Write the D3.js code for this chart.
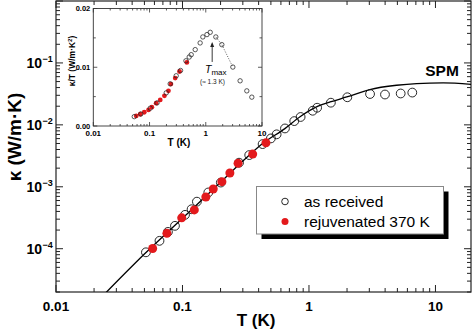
<!DOCTYPE html>
<html><head><meta charset="utf-8">
<script src="https://cdn.jsdelivr.net/npm/d3@7"></script>
<style>body{margin:0;background:#fff}svg{display:block}text{font-family:"Liberation Sans",Arial,Helvetica,sans-serif}</style>
</head><body>
<svg id="c" width="474" height="332"></svg>
<script>
// ---- main panel data: kappa (W/m.K) vs T (K)
const openT = [0.0514,0.0658,0.0767,0.0872,0.1047,0.118,0.130,0.160,0.201,0.280,0.337,0.430,0.50,0.555,0.646,0.765,0.859,1.07,1.16,1.49,2.01,3.04,3.99,5.31,6.56];
const openK = [8.75e-5,1.34e-4,1.87e-4,2.34e-4,3.52e-4,4.34e-4,5.75e-4,8.1e-4,1.17e-3,2.45e-3,3.25e-3,4.89e-3,6.04e-3,7.03e-3,8.75e-3,1.15e-2,1.34e-2,1.69e-2,1.89e-2,2.28e-2,2.79e-2,3.15e-2,3.09e-2,3.21e-2,3.32e-2];
const redT = [0.0581,0.0753,0.0986,0.124,0.153,0.175,0.205,0.237,0.275,0.359,0.457];
const redK = [1.01e-4,1.77e-4,3.15e-4,4.23e-4,6.85e-4,9.2e-4,1.21e-3,1.67e-3,2.39e-3,3.37e-3,5.13e-3];
// SPM model curve
const spmT = [0.0245,0.05,0.1,0.2,0.3,0.43,0.645,0.85,1.18,1.47,1.99,3.03,4.93,7.1,11.5,19.1];
const spmK = [1.9e-5,8.2e-5,3.1e-4,1.18e-3,2.6e-3,5.0e-3,8.7e-3,1.35e-2,2.0e-2,2.34e-2,2.82e-2,3.72e-2,4.36e-2,4.64e-2,4.75e-2,4.52e-2];
// ---- inset data: kappa/T (W/m.K^2) vs T (K)
const inOpenT = [0.0535,0.070,0.103,0.136,0.198,0.233,0.298,0.356,0.444,0.507,0.551,0.649,0.794,0.887,1.05,1.20,1.51,1.93,3.03,4.08,5.37,6.59];
const inOpenKT = [0.00159,0.00205,0.00303,0.00393,0.00564,0.00718,0.00855,0.00945,0.0111,0.01174,0.01214,0.0130,0.01414,0.01516,0.01556,0.01595,0.01516,0.01385,0.01003,0.00769,0.00598,0.00491];
const inRedT = [0.058,0.0684,0.0806,0.096,0.110,0.131,0.155,0.184,0.217,0.240,0.286,0.341,0.461];
const inRedKT = [0.00172,0.0020,0.00234,0.00274,0.0032,0.00388,0.00444,0.00513,0.00598,0.00713,0.00815,0.00928,0.01082];
const inDottedT = [1.51,1.93,3.03];
const inDottedKT = [0.01516,0.01385,0.01003];
const tMax = 1.3;
// tick labels
const xTickLabels = ["0.01","0.1","1","10"];
const yTickExps = ["-1","-2","-3","-4"];
const inXTickLabels = ["0.01","0.1","1","10"];
const inYTickLabels = ["0.00","0.01","0.02"];
const legendLabels = ["as received","rejuvenated 370 K"];

const RED = "#e3191c";
const svg = d3.select("#c");
const L=56,R=471,T=1,B=292;
const x = d3.scaleLog().domain([0.01,19.1]).range([L,R]);
const y = d3.scaleLog().domain([2e-5,1]).range([B,T]);

function decadeTicks(lo,hi){const maj=[],min=[];for(let e=-6;e<=3;e++){for(let m=1;m<10;m++){const v=m*Math.pow(10,e);if(v<lo*0.999||v>hi*1.001)continue;(m===1?maj:min).push(v);}}return {maj,min};}

// frame
svg.append("rect").attr("x",L).attr("y",T).attr("width",R-L).attr("height",B-T).attr("fill","none").attr("stroke","#222").attr("stroke-width",1.2);
const g=svg.append("g").attr("stroke","#222").attr("stroke-width",1);
const xt=decadeTicks(0.01,19.1);
xt.maj.forEach(v=>{g.append("line").attr("x1",x(v)).attr("x2",x(v)).attr("y1",B).attr("y2",B-7);g.append("line").attr("x1",x(v)).attr("x2",x(v)).attr("y1",T).attr("y2",T+7);});
xt.min.forEach(v=>{g.append("line").attr("x1",x(v)).attr("x2",x(v)).attr("y1",B).attr("y2",B-4);g.append("line").attr("x1",x(v)).attr("x2",x(v)).attr("y1",T).attr("y2",T+4);});
const yt=decadeTicks(2e-5,1);
yt.maj.forEach(v=>{g.append("line").attr("y1",y(v)).attr("y2",y(v)).attr("x1",L).attr("x2",L+7);g.append("line").attr("y1",y(v)).attr("y2",y(v)).attr("x1",R).attr("x2",R-7);});
yt.min.forEach(v=>{g.append("line").attr("y1",y(v)).attr("y2",y(v)).attr("x1",L).attr("x2",L+4);g.append("line").attr("y1",y(v)).attr("y2",y(v)).attr("x1",R).attr("x2",R-4);});

// tick labels
xTickLabels.forEach(s=>{svg.append("text").attr("x",x(+s)).attr("y",310.5).attr("text-anchor","middle").attr("font-size",13.5).attr("font-weight","bold").text(s);});
yTickExps.forEach(e=>{svg.append("text").attr("x",42).attr("y",y(Math.pow(10,+e))+5).attr("text-anchor","end").attr("font-size",14).attr("font-weight","bold").text("10");
  svg.append("text").attr("x",42.5).attr("y",y(Math.pow(10,+e))-1).attr("font-size",9).attr("font-weight","bold").text(e.replace("-","\u2212"));});
// axis titles
svg.append("text").attr("x",256).attr("y",326).attr("text-anchor","middle").attr("font-size",17).attr("font-weight","bold").text("T (K)");
svg.append("text").attr("transform","translate(21,137) rotate(-90)").attr("text-anchor","middle").attr("font-size",19).attr("font-weight","bold").text("\u03ba (W/m\u00b7K)");

// clip & curve
svg.append("clipPath").attr("id","clipM").append("rect").attr("x",L).attr("y",T).attr("width",R-L).attr("height",B-T);
const spm=spmT.map((t,i)=>[t,spmK[i]]);
svg.append("path").attr("clip-path","url(#clipM)").attr("d",d3.line().x(d=>x(d[0])).y(d=>y(d[1])).curve(d3.curveMonotoneX)(spm)).attr("fill","none").attr("stroke","#000").attr("stroke-width",1.3);
svg.append("text").attr("x",442).attr("y",76).attr("text-anchor","middle").attr("font-size",15.5).attr("font-weight","bold").text("SPM");

// main points
svg.append("g").selectAll("circle").data(openT.map((t,i)=>[t,openK[i]])).join("circle").attr("cx",d=>x(d[0])).attr("cy",d=>y(d[1])).attr("r",4.4).attr("fill","none").attr("stroke","#111").attr("stroke-width",0.9);
svg.append("g").selectAll("circle").data(redT.map((t,i)=>[t,redK[i]])).join("circle").attr("cx",d=>x(d[0])).attr("cy",d=>y(d[1])).attr("r",4.5).attr("fill",RED);

// legend
svg.append("rect").attr("x",261.5).attr("y",191.5).attr("width",187).attr("height",47.5).attr("fill","#000");
svg.append("rect").attr("x",256.5).attr("y",186.5).attr("width",187).attr("height",47.5).attr("fill","#fff").attr("stroke","#888").attr("stroke-width",1);
svg.append("circle").attr("cx",285).attr("cy",201.5).attr("r",3.3).attr("fill","none").attr("stroke","#111").attr("stroke-width",0.9);
svg.append("circle").attr("cx",285).attr("cy",221.5).attr("r",3.5).attr("fill",RED);
legendLabels.forEach((s,i)=>svg.append("text").attr("x",304).attr("y",207+i*20).attr("font-size",15.5).text(s));

// ---- inset
const IL=93.3,IR=262,IT=8.5,IB=126;
const ix=d3.scaleLog().domain([0.01,10]).range([IL,IR]);
const iy=d3.scaleLinear().domain([0,0.02]).range([IB,IT]);
svg.append("rect").attr("x",IL).attr("y",IT).attr("width",IR-IL).attr("height",IB-IT).attr("fill","#fff").attr("stroke","#333").attr("stroke-width",0.9);
const ig=svg.append("g").attr("stroke","#333").attr("stroke-width",0.8);
const ixt=decadeTicks(0.01,10);
ixt.maj.forEach(v=>{ig.append("line").attr("x1",ix(v)).attr("x2",ix(v)).attr("y1",IB).attr("y2",IB-4);ig.append("line").attr("x1",ix(v)).attr("x2",ix(v)).attr("y1",IT).attr("y2",IT+4);});
ixt.min.forEach(v=>{ig.append("line").attr("x1",ix(v)).attr("x2",ix(v)).attr("y1",IB).attr("y2",IB-2);ig.append("line").attr("x1",ix(v)).attr("x2",ix(v)).attr("y1",IT).attr("y2",IT+2);});
[0,0.005,0.01,0.015,0.02].forEach((v,i)=>{const len=i%2===0?4:2.5;ig.append("line").attr("x1",IL).attr("x2",IL+len).attr("y1",iy(v)).attr("y2",iy(v));ig.append("line").attr("x1",IR).attr("x2",IR-len).attr("y1",iy(v)).attr("y2",iy(v));});
inXTickLabels.forEach(s=>svg.append("text").attr("x",ix(+s)).attr("y",135.5).attr("text-anchor","middle").attr("font-size",8).attr("font-weight","bold").text(s));
inYTickLabels.forEach(s=>svg.append("text").attr("x",IL-3).attr("y",iy(+s)+2.8).attr("text-anchor","end").attr("font-size",7.5).attr("font-weight","bold").text(s));
svg.append("text").attr("x",179).attr("y",146).attr("text-anchor","middle").attr("font-size",10).attr("font-weight","bold").text("T (K)");
const yl=svg.append("text").attr("transform","translate(75,61) rotate(-90)").attr("text-anchor","middle").attr("font-size",8.5).attr("font-weight","bold");
yl.append("tspan").text("\u03ba/T (W/m\u00b7K");yl.append("tspan").attr("font-size",6).attr("dy",-3).text("2");yl.append("tspan").attr("dy",3).text(")");

// dotted connector
svg.append("path").attr("d",d3.line().x(d=>ix(d[0])).y(d=>iy(d[1]))(inDottedT.map((t,i)=>[t,inDottedKT[i]]))).attr("fill","none").attr("stroke","#333").attr("stroke-width",0.8).attr("stroke-dasharray","1,1.5");
svg.append("g").selectAll("circle").data(inRedT.map((t,i)=>[t,inRedKT[i]])).join("circle").attr("cx",d=>ix(d[0])).attr("cy",d=>iy(d[1])).attr("r",2.4).attr("fill",RED);
svg.append("g").selectAll("circle").data(inOpenT.map((t,i)=>[t,inOpenKT[i]])).join("circle").attr("cx",d=>ix(d[0])).attr("cy",d=>iy(d[1])).attr("r",2.2).attr("fill","none").attr("stroke","#222").attr("stroke-width",0.75);

// Tmax arrow
const ax=ix(tMax);
svg.append("line").attr("x1",ax).attr("x2",ax).attr("y1",iy(0.0109)).attr("y2",iy(0.0140)).attr("stroke","#222").attr("stroke-width",0.9);
svg.append("path").attr("d",`M${ax-2},${iy(0.0138)+2} L${ax},${iy(0.0143)} L${ax+2},${iy(0.0138)+2} Z`).attr("fill","#222");
const tm=svg.append("text").attr("x",205).attr("y",73).attr("font-size",10.5);
tm.append("tspan").attr("font-style","italic").text("T");
tm.append("tspan").attr("font-size",8).attr("dy",2).text("max");
svg.append("text").attr("x",212.5).attr("y",84).attr("text-anchor","middle").attr("font-size",6.5).attr("fill","#222").text("(\u2248 1.3 K)");
</script>
</body></html>
